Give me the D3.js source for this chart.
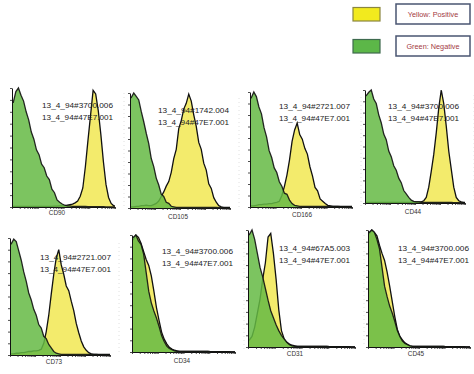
<!DOCTYPE html>
<html><head><meta charset="utf-8">
<script src="https://cdn.jsdelivr.net/npm/d3@7"></script>
<style>body{margin:0;background:#fff}svg{display:block}</style>
</head><body>
<svg id="c" width="474" height="374"></svg>
<script>
// ---------- data ----------
const markers = ["CD90","CD105","CD166","CD44","CD73","CD34","CD31","CD45"];
const sampleIds = ["13_4_94#3700.006","13_4_94#1742.004","13_4_94#2721.007","13_4_94#3700.006",
                   "13_4_94#2721.007","13_4_94#3700.006","13_4_94#67A5.003","13_4_94#3700.006"];
const controlId = "13_4_94#47E7.001";
const legendLabels = ["Yellow: Positive","Green: Negative"];
// histogram counts, % of panel max, 40 channel bins (log fluorescence)
const neg_CD90 = [88,97,100,94,89,80,73,63,57,48,44,36,33,26,23,15,12,6,4,2.5,1.5,1,1,0.5,0.5,0.5,0.5,0.5,0.5,0.3,0.3,0.3,0.2,0.2,0.2,0.2,0.1,0.1,0.1,0];
const pos_CD90 = [0.5,0.5,0.5,0.5,0.5,0.5,0.5,0.5,0.5,0.5,0.5,0.5,0.5,0.5,0.5,0.5,0.8,0.8,1,1,1,1.5,2,2.5,3.5,5,9,16,34,56,77,98,95,81,61,38,19,8,3,1];
const neg_CD105 = [96,100,97,94,84,75,65,56,43,36,26,20,12,10,5,4,1.5,1,0.5,0.5,0.5,0.5,0.5,0.5,0.5,0.5,0.5,0.5,0.5,0.5,0.5,0.5,0.5,0.5,0.5,0.3,0.3,0.3,0.2,0.2];
const pos_CD105 = [1,1,1.5,1.5,2,2,2.5,2,2,3,4,6,10,14,19,23,31,43,51,69,76,86,91,99,93,81,71,57,51,39,33,21,17,9,5,2,1,0.5,0.5,0.5];
const neg_CD166 = [95,100,96,87,81,69,61,49,43,34,30,22,18,12,11,6,3,1.5,1,0.5,0.5,0.5,0.5,0.5,0.5,0.5,0.5,0.5,0.5,0.5,0.5,0.5,0.5,0.5,0.5,0.3,0.3,0.3,0.2,0.2];
const pos_CD166 = [1,1,1.5,2,2,2.5,2.5,3,3,3.5,4,5,10,18,28,41,57,67,73,63,59,51,46,35,27,17,14,7,5,3,1.5,1,0.5,0.5,0.5,0.5,0.5,0.5,0.5,0.5];
const neg_CD44 = [95,98,100,92,88,78,71,61,56,46,41,33,29,22,18,11,8,5,2.5,1.5,1,1,0.5,0.5,0.5,0.5,0.5,0.5,0.5,0.5,0.5,0.5,0.5,0.5,0.5,0.3,0.3,0.3,0.2,0.2];
const pos_CD44 = [0.5,0.5,0.5,0.5,0.5,0.5,0.5,0.5,0.5,0.5,0.5,0.5,0.5,0.5,0.5,0.5,0.5,0.5,0.5,0.5,1,1,1,2,5,14,28,43,62,84,100,88,68,46,30,14,5,2,1,0.5];
const neg_CD73 = [95,99,97,89,81,71,63,53,47,39,34,26,23,16,14,9,6,3,1.5,1,0.5,0.5,0.5,0.5,0.5,0.5,0.5,0.5,0.5,0.5,0.5,0.5,0.5,0.5,0.5,0.3,0.3,0.3,0.2,0.2];
const pos_CD73 = [1,1,1.5,1.5,2,2,2.5,3,3,3.5,3.5,4,5,10,20,34,52,69,83,90,77,69,59,55,46,38,27,19,12,7,4,2,1,0.5,0.5,0.5,0.5,0.5,0.5,0.5];
const neg_CD34 = [98,100,95,92,84,68,52,42,35,29,22,14,9,5,3,2,1,0.5,0.5,0.5,0.5,0.5,0.5,0.5,0.5,0.5,0.5,0.5,0.5,0.5,0.3,0.3,0.3,0.3,0.2,0.2,0.2,0.2,0.1,0.1];
const pos_CD34 = [96,100,98,93,86,79,74,65,52,38,27,17,11,7,4,2.5,1.5,1,0.5,0.5,0.5,0.5,0.5,0.5,0.5,0.5,0.5,0.5,0.5,0.5,0.3,0.3,0.3,0.3,0.2,0.2,0.2,0.2,0.1,0.1];
const neg_CD31 = [96,100,92,80,68,60,50,40,31,25,19,14,10,7,4,2,1,0.5,0.5,0.5,0.5,0.5,0.5,0.5,0.5,0.5,0.5,0.5,0.5,0.5,0.3,0.3,0.3,0.3,0.2,0.2,0.2,0.2,0.1,0.1];
const pos_CD31 = [6,9,17,29,41,58,72,94,97,80,58,32,14,7,4,2.5,1.5,1,0.5,0.5,0.5,0.5,0.5,0.5,0.5,0.5,0.5,0.5,0.5,0.5,0.3,0.3,0.3,0.3,0.2,0.2,0.2,0.2,0.1,0.1];
const neg_CD45 = [98,100,98,92,84,68,52,43,35,29,22,14,9,5,3,2,1,0.5,0.5,0.5,0.5,0.5,0.5,0.5,0.5,0.5,0.5,0.5,0.5,0.5,0.3,0.3,0.3,0.3,0.2,0.2,0.2,0.2,0.1,0.1];
const pos_CD45 = [97,100,98,95,87,80,74,64,52,39,26,15,9,6,3.5,2,1,0.5,0.5,0.5,0.5,0.5,0.5,0.5,0.5,0.5,0.5,0.5,0.5,0.5,0.3,0.3,0.3,0.3,0.2,0.2,0.2,0.2,0.1,0.1];

const negData = [neg_CD90,neg_CD105,neg_CD166,neg_CD44,neg_CD73,neg_CD34,neg_CD31,neg_CD45];
const posData = [pos_CD90,pos_CD105,pos_CD166,pos_CD44,pos_CD73,pos_CD34,pos_CD31,pos_CD45];

// ---------- layout ----------
// [left, right, top, base, labelX, labelY, textX, textY]
const layout = [
  [12,115,88,207,57,215,42,108],
  [130,230,93,208,178,219,158,113],
  [250,352,92,207,302,217,279,109],
  [365,465,90,203,413,214,388,109],
  [10,110,238,355,54,364,40,259.5],
  [132,235,235,352,182,363,162,254],
  [248,355,230,347,295,355.5,279,250.5],
  [368,470,230,347,416,355.5,398,250.5]
];

const svg = d3.select("#c");
const YEL = "#f3eb6c", GRN = "#65ba44";
const nb = 40;

markers.forEach((m, k) => {
  const [L,R,T,B,lx,ly,tx,ty] = layout[k];
  const x = d3.scaleLinear().domain([0,nb]).range([L,R]);
  const y = d3.scaleLinear().domain([0,100]).range([B,T]);
  const g = svg.append("g");
  const toPts = arr => [[0,arr[0]]].concat(arr.map((v,i)=>[i+0.5,v])).concat([[nb, arr[nb-1]]]);
  const area = d3.area().x(d=>x(d[0])).y0(B).y1(d=>y(d[1])).curve(d3.curveLinear);
  const line = d3.line().x(d=>x(d[0])).y(d=>y(d[1])).curve(d3.curveLinear);

  // faint ghost axis on right
  g.append("line").attr("x1",R+9).attr("x2",R+9).attr("y1",T+5).attr("y2",B)
    .attr("stroke","#d8d8d8").attr("stroke-width",0.8).attr("stroke-dasharray","1,3");

  const pos = toPts(posData[k]), neg = toPts(negData[k]);
  g.append("path").attr("d",area(pos)).attr("fill",YEL);
  g.append("path").attr("d",line(pos)).attr("fill","none").attr("stroke","#111").attr("stroke-width",1.3);
  g.append("path").attr("d",area(neg)).attr("fill",GRN).attr("fill-opacity",0.85);
  g.append("path").attr("d",line(neg)).attr("fill","none").attr("stroke","#111").attr("stroke-width",1.3)
    .attr("stroke-opacity",0.9);

  // axes
  const xl = d3.scaleLog().domain([1,10000]).range([L,R]);
  const tv = [];
  for (let p=0;p<4;p++) for (let mm=1;mm<10;mm++) tv.push(mm*Math.pow(10,p));
  tv.push(10000);
  g.append("g").attr("transform",`translate(0,${B})`)
    .call(d3.axisBottom(xl).tickValues(tv).tickSize(2).tickSizeOuter(0).tickFormat(""))
    .call(s=>s.selectAll("line").attr("stroke","#222").attr("stroke-width",0.8))
    .call(s=>s.select(".domain").attr("stroke","#111").attr("stroke-width",1));
  g.append("g").attr("transform",`translate(${L},0)`)
    .call(d3.axisLeft(y).ticks(10).tickSize(2).tickSizeOuter(0).tickFormat(""))
    .call(s=>s.selectAll("line").attr("stroke","#222").attr("stroke-width",0.8))
    .call(s=>s.select(".domain").attr("stroke","#111").attr("stroke-width",1));

  g.append("text").attr("x",lx).attr("y",ly).attr("text-anchor","middle")
    .attr("font-family","Liberation Sans, Arial, sans-serif").attr("font-size",6.4).attr("fill","#333").text(m);
  [sampleIds[k], controlId].forEach((t,j)=>{
    g.append("text").attr("x",tx).attr("y",ty+j*12).attr("font-family","Liberation Sans, Arial, sans-serif")
      .attr("font-size",8).attr("fill","#222").attr("textLength",71).attr("lengthAdjust","spacingAndGlyphs").text(t);
  });
});

// ---------- legend ----------
const legY = [7.5, 39.5];
const swCol = [["#f2ea1e","#8a8640"],["#5cb748","#3e6a4e"]];
legendLabels.forEach((t,i)=>{
  svg.append("rect").attr("x",353).attr("y",legY[i]).attr("width",27).attr("height",13.5)
    .attr("fill",swCol[i][0]).attr("stroke",swCol[i][1]).attr("stroke-width",1.2);
  svg.append("rect").attr("x",396).attr("y",legY[i]-3.5).attr("width",74).attr("height",20)
    .attr("fill","#fff").attr("stroke","#4a5572").attr("stroke-width",1.5);
  svg.append("text").attr("x",433).attr("y",legY[i]+9.5).attr("text-anchor","middle")
    .attr("font-family","Liberation Sans, Arial, sans-serif").attr("font-size",7.3).attr("fill","#a33a3f").text(t);
});
</script>
</body></html>
